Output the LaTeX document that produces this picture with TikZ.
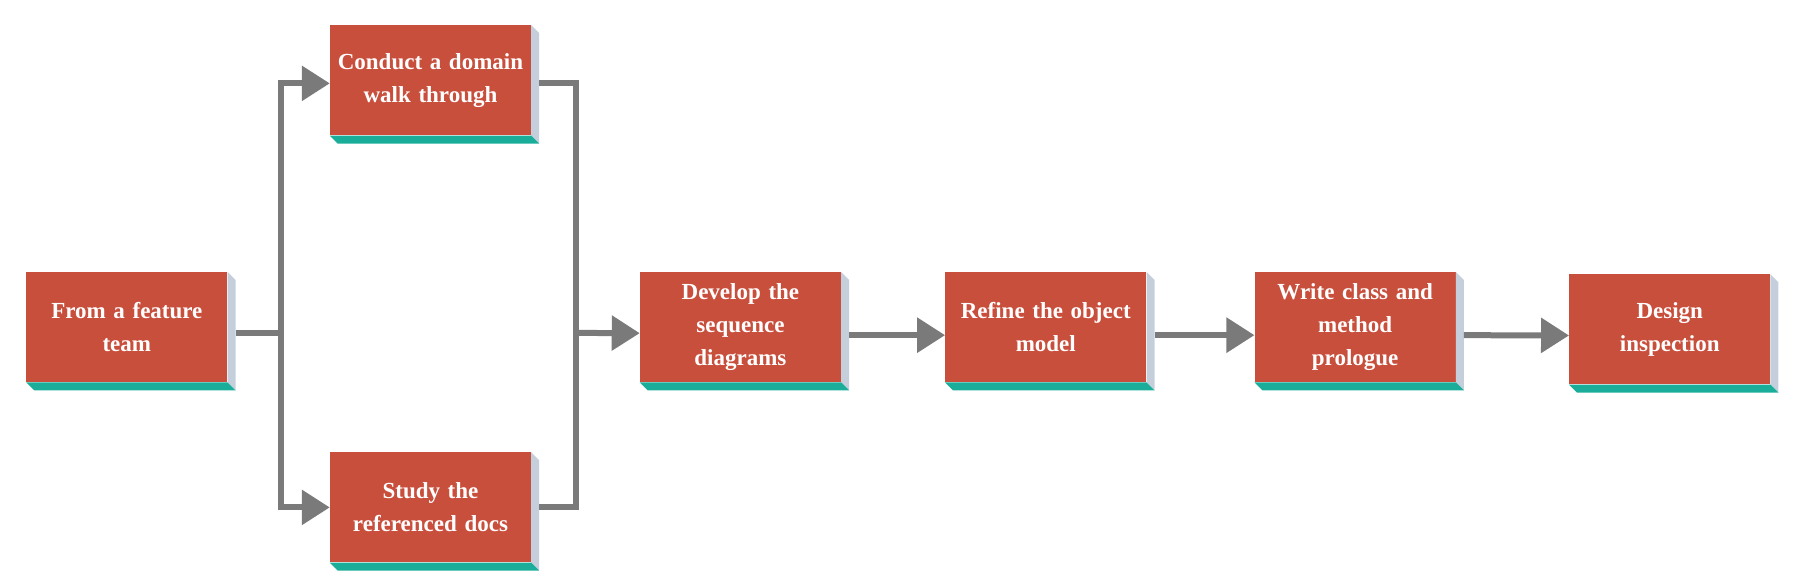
\documentclass[tikz,border=0pt]{standalone}
\usepackage{fontspec}
\setmainfont{Liberation Serif}
\usetikzlibrary{arrows.meta}
\definecolor{boxred}{HTML}{C94F3D}
\definecolor{boxteal}{HTML}{1AAE9A}
\definecolor{boxside}{HTML}{C5CFDB}
\definecolor{linegray}{HTML}{7A7A7A}
\tikzset{
  stepbox/.style={fill=boxred, minimum width=201pt, minimum height=110pt, inner sep=0pt,
    text=white, font=\bfseries\fontsize{23pt}{33pt}\selectfont, align=center, text width=192pt},
  conn/.style={draw=linegray, line width=6pt},
  arr/.style={conn, -{Triangle[length=28pt,width=34pt]}},
}
\newcommand{\boxdepth}[1]{%
  \fill[boxside] (#1.north east) -- ++(8pt,-8pt) -- ([shift={(8pt,-8pt)}]#1.south east) -- (#1.south east) -- cycle;
  \fill[boxteal] (#1.south west) -- ([shift={(8pt,-8pt)}]#1.south west) -- ([shift={(8pt,-8pt)}]#1.south east) -- (#1.south east) -- cycle;}
\begin{document}
\begin{tikzpicture}[x=1.148pt,y=-1.148pt]
\useasboundingbox (0,0) rectangle (1568,507);
\node[stepbox] (a) at (110.5,285) {From a feature\\team};
\node[stepbox] (b) at (375,70) {Conduct a domain\\walk through};
\node[stepbox] (c) at (375,442) {Study the\\referenced docs};
\node[stepbox] (d) at (645,285) {Develop the\\sequence\\diagrams};
\node[stepbox] (e) at (911,285) {Refine the object\\model};
\node[stepbox] (f) at (1180.5,285) {Write class and\\method\\prologue};
\node[stepbox] (g) at (1454.5,287) {Design\\inspection};
\foreach \n in {a,b,c,d,e,f,g} {\boxdepth{\n}}
\coordinate (j1) at (245,290);
\coordinate (j2) at (502,290);
\draw[conn] ([yshift=-6pt,xshift=8pt]a.east) -- ([yshift=-6pt]a.east -| j1);
\draw[arr] ([yshift=-6pt]a.east -| j1) |- ([yshift=-3pt]b.west);
\draw[arr] ([yshift=-6pt]a.east -| j1) |- (c.west);
\draw[conn] ([yshift=-3pt,xshift=8pt]b.east) -| (j2) |- ([xshift=8pt]c.east);
\draw[arr] (j2) -- ([yshift=-6pt]d.west);
\draw[arr] ([yshift=-8pt,xshift=8pt]d.east) -- ([yshift=-8pt]e.west);
\draw[arr] ([yshift=-8pt,xshift=8pt]e.east) -- ([yshift=-8pt]f.west);
\draw[arr] ([yshift=-8pt,xshift=8pt]f.east) -- ([yshift=-6pt]g.west);
\end{tikzpicture}
\end{document}
